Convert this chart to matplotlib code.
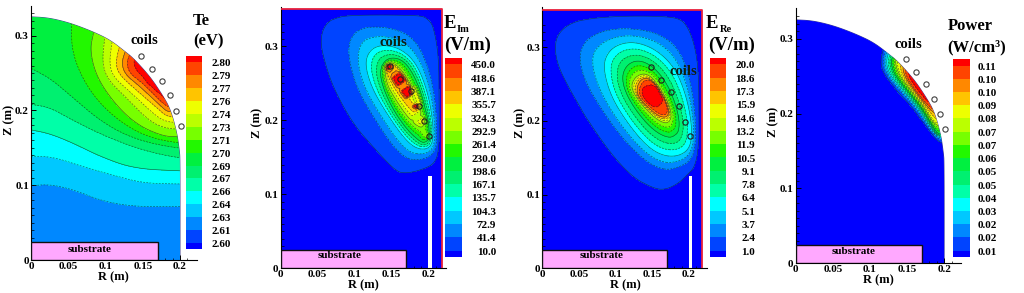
import matplotlib
matplotlib.use('Agg')
import matplotlib.pyplot as plt
import matplotlib.tri as tri
import numpy as np
from matplotlib.patches import Polygon, Rectangle

plt.rcParams['font.family'] = ['Liberation Serif', 'DejaVu Serif']
plt.rcParams['font.weight'] = 'bold'

W, H = 1024, 293

band_colors = ['#0000ff', '#0044ff', '#0088ff', '#00c8ff', '#00ffff', '#00ffa8', '#00f070', '#00f040',
               '#22f800', '#77ff00', '#bbff00', '#eeff00', '#ffc400', '#ff8800', '#ff4400', '#ff0000']

te_labels = ['2.60', '2.61', '2.63', '2.64', '2.66', '2.67', '2.69', '2.70', '2.71', '2.73', '2.74', '2.76', '2.77', '2.79', '2.80']
eim_labels = ['10.0', '41.4', '72.9', '104.3', '135.7', '167.1', '198.6', '230.0', '261.4', '292.9', '324.3', '355.7', '387.1', '418.6', '450.0']
ere_labels = ['1.0', '2.4', '3.7', '5.1', '6.4', '7.8', '9.1', '10.5', '11.9', '13.2', '14.6', '15.9', '17.3', '18.6', '20.0']
pow_labels = ['0.01', '0.02', '0.02', '0.03', '0.04', '0.05', '0.05', '0.06', '0.07', '0.07', '0.08', '0.09', '0.10', '0.10', '0.11']

# chamber outline
dome_r = [0, .02, .04, .06, .0846, .106, .1262, .1374, .1597, .1754, .1866, .1955, .199, .2, .2]
dome_z = [.325, .324, .320, .314, .3044, .2941, .2785, .2696, .2451, .2219, .2028, .1715, .147, .135, 0]

coil_r = [.148, .162, .176, .187, .194, .201]
coil_z = [.273, .256, .239, .220, .199, .179]

# contour curves: (level index, R, Z)
te_2 = (2, [0, .025, .057, .093, .137, .2, .23], [.100, .102, .095, .080, .072, .072, .072])
te_3 = (3, [0, .03, .07, .11, .151, .2, .23], [.139, .138, .125, .114, .103, .102, .102])
te_4 = (4, [0, .025, .057, .093, .137, .2, .23], [.174, .169, .156, .138, .122, .119, .119])
te_5 = (5, [0, .0255, .0523, .0971, .1508, .2, .23], [.208, .204, .189, .167, .147, .136, .136])
te_6 = (6, [0, .0255, .0523, .0971, .1418, .2, .23], [.256, .243, .2205, .1826, .1604, .1492, .149])
te_7 = (7, [.0559, .0546, .0658, .0881, .1195, .1553, .1978, .23], [.3163, .2851, .2494, .2138, .1849, .1648, .1559, .155])
te_8 = (8, [.0846, .0792, .0882, .1128, .1419, .1776, .1955, .23], [.3044, .2807, .2450, .2081, .1805, .1648, .1648, .165])
te_9 = (9, [.0993, .0957, .1038, .1262, .1597, .1821, .2], [.2963, .2629, .2406, .2193, .1849, .1760, .175])
te_10 = (10, [.1083, .1052, .1100, .1329, .1687, .1821, .197], [.2897, .2629, .2450, .2250, .1916, .1850, .184])
te_11 = (11, [.1181, .1136, .1185, .1387, .1732, .1821, .195], [.2830, .2629, .2480, .2296, .2005, .1925, .19])
te_12 = (12, [.1262, .1217, .1265, .1441, .1754, .1821, .192], [.2776, .2629, .2480, .2340, .205, .1983, .1983])
te_13 = (13, [.1320, .1284, .1330, .1485, .1821, .19], [.2741, .2629, .2490, .2380, .2041, .205])
te_14 = (14, [.1374, .1342, .1385, .1530, .1821, .1843], [.2696, .2629, .2500, .2415, .2117, .2104])
te_extra_r = [-.01, .1, .23, .23, -.01, .03, .165, .2, .18]
te_extra_z = [-.01, -.01, -.01, .36, .34, .34, .235, .25, .30]
te_extra_v = [1, 1, 1, 15.5, 6.7, 6.85, 15.3, 15.6, 15.5]

eim_0 = (0, [.054, .060, .076, .107, .175, .198, .207, .214, .214, .214, .209, .189, .166, .153, .126, .098, .071, .058],
         [.309, .329, .340, .342, .342, .340, .327, .286, .227, .164, .142, .133, .128, .135, .164, .196, .245, .286])
eim_1 = (1, [.092, .101, .121, .153, .180, .198, .209, .212, .210, .193, .173, .153, .126, .105, .094],
         [.302, .320, .327, .324, .311, .277, .232, .182, .157, .147, .147, .164, .205, .241, .277])
eim_3 = (3, [.114, .121, .137, .162, .184, .200, .207, .205, .189, .171, .144, .123],
         [.277, .295, .302, .297, .277, .236, .191, .164, .160, .171, .209, .245])
eim_6 = (6, [.135, .146, .166, .182, .193, .202, .200, .191, .171, .150, .137],
         [.270, .285, .282, .259, .227, .191, .170, .169, .187, .218, .250])
eim_9 = (9, [.141, .150, .164, .177, .189, .196, .193, .185, .171, .153, .143],
         [.275, .279, .268, .245, .214, .196, .190, .192, .205, .232, .250])
eim_12 = (12, [.141, .150, .168, .180, .189, .182, .168, .155, .144],
          [.273, .277, .259, .239, .218, .214, .230, .248, .266])
eim_extra_r = [-.02, .1, .24, .24, .24, .24, .1, -.02, -.02, -.02, .05, .1, .2, .15, .161, .173, .146, .184, .192, .199]
eim_extra_z = [-.02, -.02, -.02, .1, .2, .37, .37, .37, .25, .1, .1, .05, .08, .05, .256, .239, .273, .219, .200, .179]
eim_extra_v = [-1, -1, -1, -1, -1, -1, -1, -1, -1, -1, -1, -1, -1, -1, 19, 19, 17, 17, 11.5, 9]

ere_0 = (0, [.017, .024, .040, .065, .110, .160, .188, .199, .208, .213, .213, .213, .208, .197, .185, .165, .147, .124, .097, .065, .038, .020],
         [.305, .321, .333, .339, .342, .342, .339, .326, .301, .265, .215, .170, .138, .127, .115, .106, .111, .124, .152, .197, .242, .278])
ere_1 = (1, [.05, .058, .079, .110, .151, .179, .195, .204, .209, .209, .204, .183, .165, .142, .110, .079, .058],
         [.287, .308, .321, .326, .321, .305, .278, .242, .201, .170, .147, .136, .134, .145, .176, .219, .255])
ere_3 = (3, [.083, .090, .106, .129, .156, .179, .192, .201, .205, .201, .183, .160, .138, .110, .092],
         [.274, .294, .305, .307, .296, .274, .247, .215, .183, .161, .151, .154, .170, .206, .238])
ere_6 = (6, [.108, .115, .131, .151, .170, .183, .188, .181, .160, .138, .117],
         [.258, .276, .283, .274, .251, .219, .192, .176, .181, .201, .231])
ere_9 = (9, [.120, .129, .145, .160, .174, .176, .167, .149, .131],
         [.247, .262, .264, .244, .219, .201, .196, .208, .229])
ere_12 = (12, [.128, .135, .147, .163, .173, .172, .160, .145, .131],
          [.244, .258, .258, .240, .217, .205, .205, .217, .231])
ere_14 = (14, [.135, .142, .151, .163, .170, .165, .151, .138],
          [.242, .253, .253, .233, .215, .210, .219, .231])
ere_extra_r = [-.02, .1, .24, .24, .24, .24, .1, -.02, -.02, -.02, .03, .08, .2, .15, .152]
ere_extra_z = [-.02, -.02, -.02, .1, .2, .37, .37, .37, .25, .1, .1, .05, .06, .05, .232]
ere_extra_v = [-1, -1, -1, -1, -1, -1, -1, -1, -1, -1, -1, -1, -1, -1, 18]

pow_0 = (0, [.122, .1144, .119, .137, .1587, .1743, .1877, .196, .21], [.295, .2713, .2537, .2314, .2091, .1868, .1692, .161, .16])
pow_3 = (3, [.127, .1217, .1250, .1442, .1640, .1788, .1908, .205], [.285, .2713, .2537, .2314, .2091, .1868, .1692, .168])
pow_6 = (6, [.134, .1280, .1317, .1496, .1685, .1820, .1926, .205], [.28, .2713, .2537, .2314, .2091, .1868, .1692, .175])
pow_10 = (10, [.142, .1352, .1398, .1563, .1743, .1864, .2], [.28, .2713, .2537, .2314, .2091, .1868, .185])
pow_13 = (13, [.15, .1461, .1608, .1788, .195], [.27, .2537, .2314, .2091, .2])
pow_14 = (14, [.156, .1496, .163, .181, .19], [.265, .2537, .2314, .2125, .21])
pow_extra_r = [-.01, .1, .24, .24, -.01, .05, .1, .1, .15, .17, .18, .2, .05, .22, .22, .11]
pow_extra_z = [-.01, -.01, -.01, .1, .36, .2, .1, .25, .1, .12, .14, .1, .33, .2, .29, .31]
pow_extra_v = [-1, -1, -1, -1, -1, -1, -1, -1, -1, -1, -1, -1, -1, 15.5, 15.5, -1]
pow_peak_r = [.17, .165, .18, .195]
pow_peak_z = [.245, .25, .23, .215]
pow_peak_v = [15, 15, 15, 15]


def px_axes(x0, y0, x1, y1):
    return fig.add_axes([x0 / W, 1 - y0 / H, (x1 - x0) / W, (y0 - y1) / H])


def put(x, y, s, size, ha='center', rot=0, color='black'):
    fig.text(x / W, 1 - y / H, s, fontsize=size, ha=ha, va='center', rotation=rot, color=color, fontweight='bold')


def round_curve(xs, ys, closed):
    # corner cutting, so the read curve is dense and has no kinks
    p = np.column_stack([xs, ys])
    for _ in range(4):
        if closed:
            q = np.roll(p, -1, axis=0)
            p = np.vstack(np.stack([.75 * p + .25 * q, .25 * p + .75 * q], axis=1))
        else:
            a, b = p[:-1], p[1:]
            mid = np.vstack(np.stack([.75 * a + .25 * b, .25 * a + .75 * b], axis=1))
            p = np.vstack([p[:1], mid, p[-1:]])
    return p[:, 0], p[:, 1]


def smooth(g, n=5):
    k = np.array([1, 4, 6, 4, 1]) / 16
    for _ in range(n):
        g = np.apply_along_axis(lambda c: np.convolve(np.pad(c, 2, mode='edge'), k, mode='valid'), 0, g)
        g = np.apply_along_axis(lambda c: np.convolve(np.pad(c, 2, mode='edge'), k, mode='valid'), 1, g)
    return g


def draw_field(ax, curves, extra_r, extra_z, extra_v, solid, clip, closed=False, blur=3):
    r = list(extra_r)
    z = list(extra_z)
    v = list(extra_v)
    for idx, cr, cz in curves:
        xr, xz = round_curve(cr, cz, closed)
        r += list(xr)
        z += list(xz)
        v += [idx] * len(xr)
    tr = tri.Triangulation(r, z)
    gr, gz = np.meshgrid(np.arange(0, .226, .001), np.arange(0, .356, .001))
    g = tri.LinearTriInterpolator(tr, v)(gr, gz)
    g = smooth(np.ma.filled(g, -1.0), blur)
    bounds = [-100] + list(range(15)) + [100]
    cf = ax.contourf(gr, gz, g, levels=bounds, colors=band_colors)
    cf.set_clip_path(clip)
    lev = list(range(15))
    styles = ['solid' if i in solid else (0, (3, 2)) for i in lev]
    cl = ax.contour(gr, gz, g, levels=lev, colors='#103030', linewidths=0.45, linestyles=styles, alpha=0.75)
    cl.set_clip_path(clip)


def finish_axes(ax):
    ax.spines['top'].set_visible(False)
    ax.spines['right'].set_visible(False)
    ax.set_xticks([0, .05, .1, .15, .2])
    ax.set_xticklabels(['0', '0.05', '0.1', '0.15', '0.2'])
    ax.set_yticks([0, .1, .2, .3])
    ax.set_yticklabels(['0', '0.1', '0.2', '0.3'])
    ax.set_xticks(np.arange(0, .22, .01), minor=True)
    ax.set_yticks(np.arange(0, .34, .01), minor=True)
    ax.tick_params(which='major', direction='in', length=3.5, width=0.7, labelsize=8, pad=1.5)
    ax.tick_params(which='minor', direction='in', length=1.8, width=0.5)
    for s in ['left', 'bottom']:
        ax.spines[s].set_linewidth(0.8)
    ax.patch.set_alpha(0)


def colorbar(x0, y0, x1, y1, labels, label_x, ha):
    ax = px_axes(x0, y0, x1, y1)
    ax.set_xlim(0, 1)
    ax.set_ylim(-0.5, 14.5)
    edges = [-0.5] + list(range(15)) + [14.5]
    for i in range(16):
        ax.barh(edges[i], 1, height=edges[i + 1] - edges[i], align='edge', color=band_colors[i], linewidth=0)
    ax.axis('off')
    step = (y0 - y1) / 15
    for i, s in enumerate(labels):
        put(label_x, y0 - step * (i + 0.5) + 1.5, s, 8, ha=ha)


def coils(ax, face, edge):
    ax.plot(coil_r, coil_z, linestyle='none', marker='o', markersize=3.8, markerfacecolor=face,
            markeredgecolor=edge, markeredgewidth=0.8, clip_on=False)


def substrate(ax):
    ax.add_patch(Rectangle((0, 0), .17, .0245, facecolor='#ffa8ff', edgecolor='#101010', linewidth=1.0, zorder=3))


def dome_clip(ax):
    xr, xz = round_curve(dome_r, dome_z, False)
    poly = Polygon(np.column_stack([list(xr) + [0], list(xz) + [0]]), closed=True,
                   transform=ax.transData, facecolor='none', edgecolor='#404090', linewidth=0.7)
    ax.add_patch(poly)
    return poly


def box_clip(ax, rmax, zmax):
    box = Rectangle((0, 0), rmax, zmax, transform=ax.transData, facecolor='none', edgecolor='none')
    ax.add_patch(box)
    return box


def slot_and_border(ax, rmax, zmax, r0, r1):
    ax.add_patch(Rectangle((r0, 0), r1 - r0, .125, facecolor='white', edgecolor='none', zorder=2))
    ax.plot([0, rmax, rmax], [zmax, zmax, 0], color='#e8203c', linewidth=1.3, zorder=4)


fig = plt.figure(figsize=(W / 100, H / 100), dpi=100)

# Te
ax1 = px_axes(31, 260, 197, 5.7)
ax1.set_xlim(0, 166 / 745)
ax1.set_ylim(0, 254.3 / 748)
clip1 = dome_clip(ax1)
draw_field(ax1, [te_2, te_3, te_4, te_5, te_6, te_7, te_8, te_9, te_10, te_11, te_12, te_13, te_14],
           te_extra_r, te_extra_z, te_extra_v, [0, 4, 8, 12], clip1)
substrate(ax1)
coils(ax1, 'white', '#404040')
finish_axes(ax1)
colorbar(186, 249.3, 202, 56, te_labels, 211, 'left')
put(201, 21, 'Te', 12)
put(208, 41, '(eV)', 12)
put(144, 41, 'coils', 10.5)
put(90, 249, 'substrate', 8)
put(113, 277, 'R (m)', 9)
put(9, 120, 'Z (m)', 9, rot=90)

# E imaginary
ax2 = px_axes(280.7, 268.3, 446, 6.7)
ax2.set_xlim(0, 165.3 / 738)
ax2.set_ylim(0, 261.6 / 740)
clip2 = box_clip(ax2, .218, .35)
draw_field(ax2, [eim_0, eim_1, eim_3, eim_6, eim_9, eim_12], eim_extra_r, eim_extra_z, eim_extra_v, [0, 3, 6, 9, 12], clip2, closed=True, blur=1)
slot_and_border(ax2, .218, .35, .2, .205)
substrate(ax2)
coils(ax2, 'none', '#202020')
finish_axes(ax2)
colorbar(445.3, 257.3, 462, 57.7, eim_labels, 496, 'right')
put(450, 23, 'E', 13.5)
put(463, 30, 'Im', 7.5)
put(468, 45, '(V/m)', 13.5)
put(393, 43, 'coils', 10.5, color='#102010')
put(340, 256, 'substrate', 8)
put(363, 285, 'R (m)', 9)
put(257, 123, 'Z (m)', 9, rot=90)

# E real
ax3 = px_axes(542.3, 268.3, 707.3, 6.7)
ax3.set_xlim(0, 165 / 733)
ax3.set_ylim(0, 261.6 / 737)
clip3 = box_clip(ax3, .218, .35)
draw_field(ax3, [ere_0, ere_1, ere_3, ere_6, ere_9, ere_12, ere_14], ere_extra_r, ere_extra_z, ere_extra_v, [0, 3, 6, 9, 12], clip3, closed=True, blur=1)
slot_and_border(ax3, .218, .35, .2, .204)
substrate(ax3)
coils(ax3, 'none', '#202020')
finish_axes(ax3)
colorbar(710, 257.3, 726, 57.7, ere_labels, 755, 'right')
put(712, 23, 'E', 13.5)
put(726, 30, 'Re', 7.5)
put(732, 45, '(V/m)', 13.5)
put(683, 71, 'coils', 10.5, color='#102010')
put(602, 256, 'substrate', 8)
put(625, 285, 'R (m)', 9)
put(520, 123, 'Z (m)', 9, rot=90)

# power
ax4 = px_axes(795.7, 263.3, 960.7, 8.3)
ax4.set_xlim(0, 165 / 742)
ax4.set_ylim(0, 255 / 749)
clip4 = dome_clip(ax4)
draw_field(ax4, [pow_0, pow_3, pow_6, pow_10, pow_13, pow_14], pow_extra_r + pow_peak_r, pow_extra_z + pow_peak_z,
           pow_extra_v + pow_peak_v, [0, 3, 6, 9, 12], clip4, blur=1)
substrate(ax4)
coils(ax4, 'white', '#404040')
finish_axes(ax4)
colorbar(953.3, 257.3, 970, 59, pow_labels, 978, 'left')
put(970, 26, 'Power', 12)
put(977, 47, '(W/cm³)', 12)
put(908, 44, 'coils', 10.5)
put(854, 252, 'substrate', 8)
put(878, 280, 'R (m)', 9)
put(773, 122, 'Z (m)', 9, rot=90)

fig.savefig('out.png', dpi=100)
